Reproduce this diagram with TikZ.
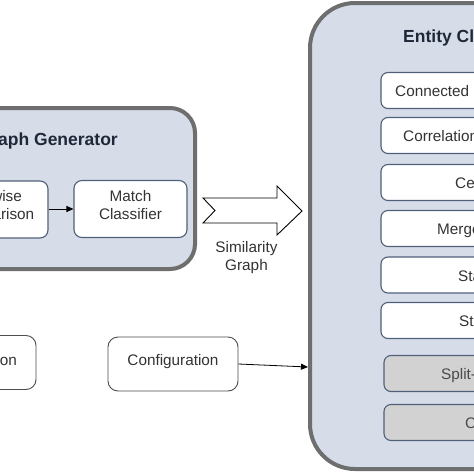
\documentclass[tikz,border=0pt]{standalone}
\usepackage{fontspec}
\setmainfont{Liberation Sans}
\usetikzlibrary{arrows.meta}
\definecolor{panelfill}{HTML}{D6DDE8}
\definecolor{panelborder}{HTML}{6E6E6E}
\definecolor{boxborder}{HTML}{51607A}
\definecolor{grayfill}{HTML}{D2D2D2}
\definecolor{textcol}{HTML}{333333}
\definecolor{graytext}{HTML}{4A4A4A}
\definecolor{titlecol}{HTML}{1E2838}
\begin{document}
\begin{tikzpicture}[x=1pt,y=-1pt,
  lbl/.style={font=\fontsize{15.3pt}{18pt}\selectfont, text=textcol, inner sep=0pt},
  ttl/.style={font=\fontsize{17.5pt}{20pt}\selectfont\bfseries, text=titlecol, inner sep=0pt},
  panel/.style={draw=panelborder, line width=4pt, fill=panelfill, inner sep=0pt},
  algobox/.style={draw=boxborder, line width=1.1pt, fill=white, rounded corners=7pt, inner sep=0pt, minimum width=193pt, minimum height=36pt},
  graybox/.style={algobox, fill=grayfill},
  procbox/.style={draw=boxborder, line width=1.1pt, fill=white, rounded corners=8pt, inner sep=0pt, minimum height=57pt},
  inbox/.style={draw=black!70, line width=0.9pt, fill=white, rounded corners=10pt, inner sep=0pt, minimum height=54pt},
  conn/.style={draw=black, line width=0.8pt, -{Triangle[length=7pt,width=6pt]}}
]
\useasboundingbox (0,0) rectangle (474,474);
\fill[white] (0,0) rectangle (474,474);
\clip (0,0) rectangle (474,474);

% left panel: graph generator
\node[panel, rounded corners=25pt, minimum width=345pt, minimum height=161pt] (gen) at (22.5,188.5) {};
\node[ttl, anchor=base east] (gentitle) at (118,145) {Graph Generator};
\node[procbox, minimum width=112pt] (pair) at (-8,209.5) {};
\node[lbl, anchor=base] (pairt1) at (-7,201.5) {Pairwise};
\node[lbl, anchor=base] (pairt2) at (-7,219.5) {Comparison};
\node[procbox, minimum width=113pt] (match) at (130.5,209) {};
\node[lbl, anchor=base] (matcht1) at (130.5,201.5) {Match};
\node[lbl, anchor=base] (matcht2) at (130.5,219.5) {Classifier};
\draw[conn] (pair.east |- 0,209) -- (match.west |- 0,209);

% block arrow
\draw[fill=white, line width=0.9pt, line join=miter] (203,198) -- (277,198) -- (277,186) -- (302,211) -- (277,235) -- (277,223) -- (203,223) -- (215,210.5) -- cycle;
\node[lbl, anchor=base] (simt1) at (246.5,252) {Similarity};
\node[lbl, anchor=base] (simt2) at (246.5,270) {Graph};

% right panel: entity clustering
\node[panel, rounded corners=45pt, minimum width=330pt, minimum height=466pt] (ec) at (475,236) {};
\node[ttl, anchor=base west] (ectitle) at (403,42) {Entity Clustering};

\node[algobox] (a1) at (477.5,90.5) {};
\node[lbl, anchor=base west] (a1t) at (395,96.5) {Connected Components};
\node[algobox] (a2) at (477.5,135.5) {};
\node[lbl, anchor=base west] (a2t) at (403,141.5) {Correlation Clustering};
\node[algobox] (a3) at (477.5,182.5) {};
\node[lbl, anchor=base west] (a3t) at (455,188.5) {Center};
\node[algobox] (a4) at (477.5,228.5) {};
\node[lbl, anchor=base west] (a4t) at (437,234.5) {Merge-Center};
\node[algobox] (a5) at (477.5,275) {};
\node[lbl, anchor=base west] (a5t) at (458,281) {Star};
\node[algobox] (a6) at (477.5,320.5) {};
\node[lbl, anchor=base west] (a6t) at (459,326.5) {Star};
\node[graybox] (a7) at (480.5,373.5) {};
\node[lbl, text=graytext, anchor=base west] (a7t) at (441,379.5) {Split-Merge};
\node[graybox] (a8) at (480.5,422.5) {};
\node[lbl, text=graytext, anchor=base west] (a8t) at (465,428.5) {Clustering};

% bottom inputs
\node[inbox, minimum width=136pt] (eval) at (-32,362.5) {};
\node[lbl, anchor=base east] (evalt) at (17,365.5) {Evaluation};
\node[inbox, minimum width=130pt] (cfg) at (173,364) {};
\node[lbl, anchor=base] (cfgt) at (173,365.5) {Configuration};
\coordinate (cfgin) at (308,367);
\draw[conn] (cfg.east) -- (cfgin);
\end{tikzpicture}
\end{document}
